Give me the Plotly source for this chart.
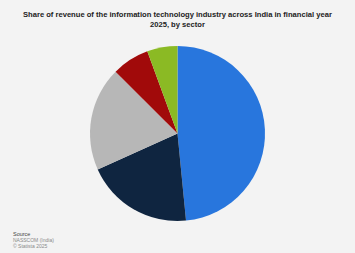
import plotly.graph_objects as go

sectors = ["Sector A", "Sector B", "Sector C", "Sector D", "Sector E"]
shares = [48.4, 19.8, 19.2, 6.9, 5.6]
colors = ["#2876dd", "#0f2540", "#b7b7b7", "#a10a0a", "#8bba24"]

title_text = "Share of revenue of the information technology industry across India in financial year<br>2025, by sector"
source_lines = ["Source", "NASSCOM (India)", "© Statista 2025"]

fig = go.Figure(go.Pie(
    labels=sectors, values=shares, sort=False, direction="clockwise", rotation=0,
    marker=dict(colors=colors, line=dict(width=0)), textinfo="none", hoverinfo="label+percent",
    domain=dict(x=[(177.5-87.5)/355, (177.5+87.5)/355], y=[1-(133.5+87.5)/253, 1-(133.5-87.5)/253]),
))

fig.update_layout(
    width=355, height=253, margin=dict(l=0, r=0, t=0, b=0),
    paper_bgcolor="#f3f3f3", plot_bgcolor="#f3f3f3", showlegend=False,
    font=dict(family="Liberation Sans, Arial, sans-serif"),
    annotations=[
        dict(text="<b>" + title_text + "</b>", x=0.5, y=1-8/253, xref="paper", yref="paper",
             xanchor="center", yanchor="top", showarrow=False, font=dict(size=7.6, color="#222222"),
             align="center"),
        dict(text=source_lines[0], x=11/355, y=1-234/253, xref="paper", yref="paper",
             xanchor="left", yanchor="middle", showarrow=False, font=dict(size=5.5, color="#444444")),
        dict(text=source_lines[1], x=11/355, y=1-240/253, xref="paper", yref="paper",
             xanchor="left", yanchor="middle", showarrow=False, font=dict(size=5, color="#8a8a8a")),
        dict(text=source_lines[2], x=11/355, y=1-246/253, xref="paper", yref="paper",
             xanchor="left", yanchor="middle", showarrow=False, font=dict(size=5, color="#8a8a8a")),
    ],
)

fig.write_html("out.html")
